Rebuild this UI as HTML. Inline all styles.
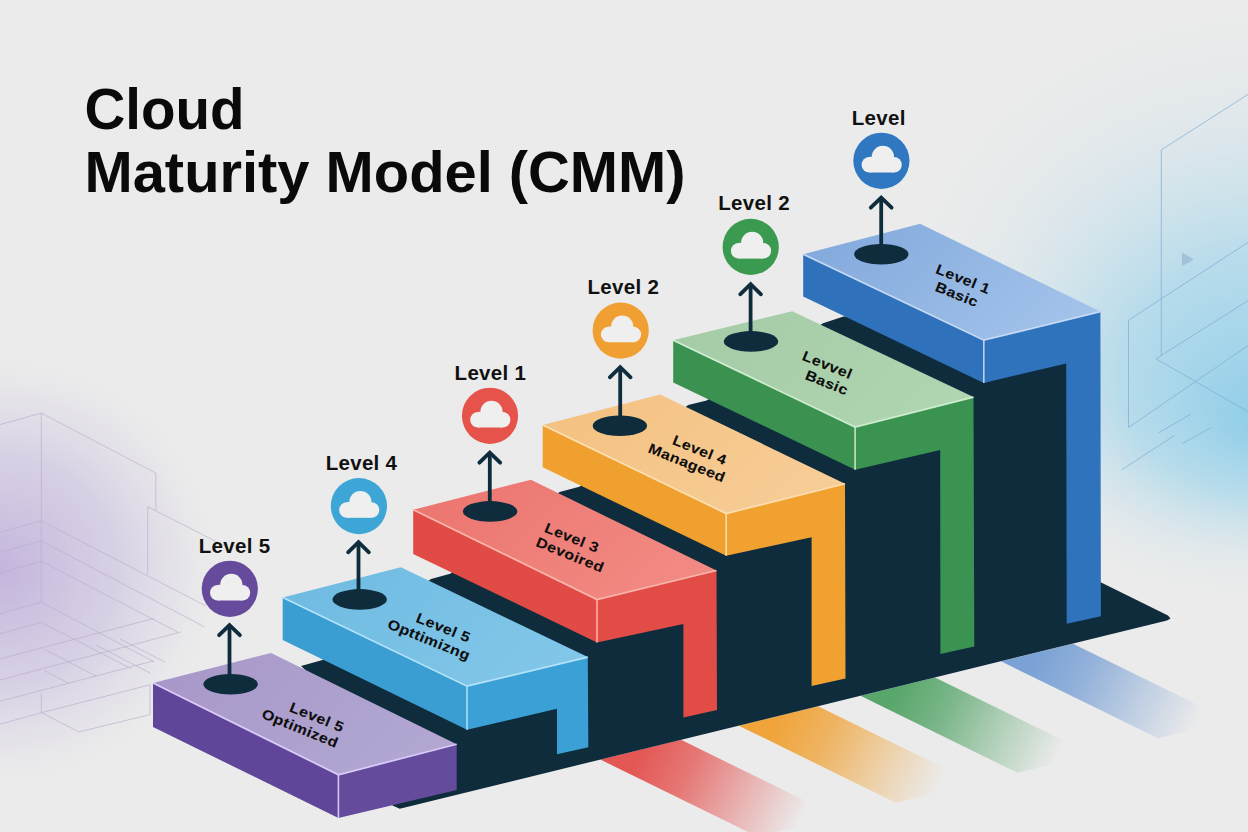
<!DOCTYPE html>
<html><head><meta charset="utf-8"><style>
html,body{margin:0;padding:0;width:1248px;height:832px;overflow:hidden;background:#ebebeb}
svg{display:block}
.title{font-family:"Liberation Sans",sans-serif;font-weight:bold;font-size:56.5px;fill:#0a0a0a}
.lbl{font-family:"Liberation Sans",sans-serif;font-weight:bold;font-size:20.5px;fill:#111;letter-spacing:0.3px}
.st{font-family:"Liberation Sans",sans-serif;font-weight:bold;font-size:14px;fill:#0d0d0d;letter-spacing:0.4px;stroke:#0d0d0d;stroke-width:0.1px}
</style></head><body>
<svg width="1248" height="832" viewBox="0 0 1248 832">
<defs>
<linearGradient id="g_purple" x1="0" y1="0.3" x2="1" y2="0.7"><stop offset="0" stop-color="#a898c9"/><stop offset="1" stop-color="#b2a8d2"/></linearGradient>
<linearGradient id="g_cyan" x1="0" y1="0.3" x2="1" y2="0.7"><stop offset="0" stop-color="#70bbe2"/><stop offset="1" stop-color="#82c7e9"/></linearGradient>
<linearGradient id="g_red" x1="0" y1="0.3" x2="1" y2="0.7"><stop offset="0" stop-color="#ec7670"/><stop offset="1" stop-color="#f28b84"/></linearGradient>
<linearGradient id="g_orange" x1="0" y1="0.3" x2="1" y2="0.7"><stop offset="0" stop-color="#f4c282"/><stop offset="1" stop-color="#f7cd97"/></linearGradient>
<linearGradient id="g_green" x1="0" y1="0.3" x2="1" y2="0.7"><stop offset="0" stop-color="#a4cca6"/><stop offset="1" stop-color="#b0d5b1"/></linearGradient>
<linearGradient id="g_blue" x1="0" y1="0.3" x2="1" y2="0.7"><stop offset="0" stop-color="#84aadd"/><stop offset="1" stop-color="#a3c3ea"/></linearGradient>
</defs>
<radialGradient id="bgp" cx="0" cy="0" r="1" gradientUnits="userSpaceOnUse" gradientTransform="translate(0,570) scale(215,210)"><stop offset="0" stop-color="#b9a7d9" stop-opacity="0.8"/><stop offset="0.55" stop-color="#c4b6de" stop-opacity="0.5"/><stop offset="1" stop-color="#d0c8e2" stop-opacity="0"/></radialGradient>
<radialGradient id="bgb" cx="0" cy="0" r="1" fx="0" fy="0.42" gradientUnits="userSpaceOnUse" gradientTransform="translate(1262,300) scale(360,300)"><stop offset="0" stop-color="#8ecde8" stop-opacity="1"/><stop offset="0.4" stop-color="#a2d5eb" stop-opacity="0.7"/><stop offset="0.75" stop-color="#c2e0ec" stop-opacity="0.22"/><stop offset="1" stop-color="#d5e6ec" stop-opacity="0"/></radialGradient>
<rect width="1248" height="832" fill="#ebebeb"/>
<rect width="1248" height="832" fill="url(#bgb)"/>
<rect width="1248" height="832" fill="url(#bgp)"/>
<g stroke="#7eabd6" stroke-width="1" fill="none" stroke-opacity="0.7"><line x1="1161.3" y1="149.9" x2="1161.3" y2="356.1"/><line x1="1161.3" y1="149.9" x2="1248" y2="94.4"/><line x1="1156" y1="358.8" x2="1248" y2="300.6"/><line x1="1128.5" y1="320.2" x2="1128.5" y2="427.5"/><line x1="1128.5" y1="320.2" x2="1248" y2="242.4"/><line x1="1128.5" y1="427.5" x2="1248" y2="345.6"/><line x1="1156" y1="358.8" x2="1248" y2="411.7"/><line x1="1158.6" y1="432.8" x2="1190.4" y2="414.3"/><line x1="1182.4" y1="443.4" x2="1211.5" y2="427.5"/><line x1="1121.6" y1="469.8" x2="1174.5" y2="435.5"/></g><polygon points="1182,252.5 1194,259.4 1182,266.3" fill="#9dbad6" fill-opacity="0.8"/>
<g stroke="#b8aecb" stroke-width="1" fill="none" stroke-opacity="0.65"><line x1="41.3" y1="413.1" x2="41.3" y2="602"/><line x1="41.3" y1="693.5" x2="41.3" y2="712.7"/><line x1="0" y1="424.6" x2="41.3" y2="413.1"/><line x1="41.3" y1="413.1" x2="155.8" y2="473.1"/><line x1="155.8" y1="473.1" x2="155.8" y2="510.6"/><line x1="147.7" y1="506.7" x2="147.7" y2="573.8"/><line x1="147.7" y1="506.7" x2="225" y2="546"/><line x1="0" y1="532.3" x2="41.3" y2="520.8"/><line x1="0" y1="552.4" x2="41.3" y2="540.9"/><line x1="0" y1="572.8" x2="41.3" y2="561.3"/><line x1="0" y1="613.7" x2="41.3" y2="602.1"/><line x1="0" y1="633.8" x2="41.3" y2="622.3"/><line x1="41.3" y1="520.8" x2="206" y2="606"/><line x1="41.3" y1="540.9" x2="204.5" y2="626.9"/><line x1="41.3" y1="561.3" x2="178" y2="632.2"/><line x1="41.3" y1="602.1" x2="153.8" y2="661.7"/><line x1="41.3" y1="622.3" x2="130.8" y2="668.5"/><line x1="44.2" y1="649.2" x2="96.2" y2="676.2"/><line x1="44.2" y1="670.4" x2="69.2" y2="683.8"/><line x1="41.3" y1="712.7" x2="78.8" y2="731.9"/><line x1="0" y1="658.8" x2="153.8" y2="618.5"/><line x1="0" y1="680" x2="180.8" y2="632"/><line x1="0" y1="701.2" x2="153.8" y2="660.8"/><line x1="0" y1="724.2" x2="41.3" y2="712.7"/><line x1="41.3" y1="712.7" x2="150" y2="684.8"/><line x1="78.8" y1="731.9" x2="150" y2="714.6"/><line x1="150" y1="684.8" x2="150" y2="714.6"/><line x1="96" y1="645" x2="150" y2="673"/><line x1="120" y1="639" x2="165" y2="662"/></g>
<linearGradient id="sh0" gradientUnits="userSpaceOnUse" x1="640.7" y1="749.7" x2="797.8" y2="826.7"><stop offset="0" stop-color="#e34f4c" stop-opacity="0.95"/><stop offset="0.3" stop-color="#e34f4c" stop-opacity="0.74"/><stop offset="0.65" stop-color="#e34f4c" stop-opacity="0.36"/><stop offset="1" stop-color="#e34f4c" stop-opacity="0"/></linearGradient>
<polygon points="600.4,759.6 681.0,739.8 838.1,816.8 757.5,836.6" fill="url(#sh0)"/>
<linearGradient id="sh1" gradientUnits="userSpaceOnUse" x1="778.4" y1="715.9" x2="935.5" y2="792.9"><stop offset="0" stop-color="#f0a030" stop-opacity="0.95"/><stop offset="0.3" stop-color="#f0a030" stop-opacity="0.74"/><stop offset="0.65" stop-color="#f0a030" stop-opacity="0.36"/><stop offset="1" stop-color="#f0a030" stop-opacity="0"/></linearGradient>
<polygon points="738.7,725.7 818.0,706.2 975.1,783.2 895.8,802.7" fill="url(#sh1)"/>
<linearGradient id="sh2" gradientUnits="userSpaceOnUse" x1="897.7" y1="686.7" x2="1054.8" y2="763.7"><stop offset="0" stop-color="#3f9a55" stop-opacity="0.85"/><stop offset="0.3" stop-color="#3f9a55" stop-opacity="0.66"/><stop offset="0.65" stop-color="#3f9a55" stop-opacity="0.32"/><stop offset="1" stop-color="#3f9a55" stop-opacity="0"/></linearGradient>
<polygon points="860.4,695.8 935.0,677.5 1092.1,754.5 1017.5,772.8" fill="url(#sh2)"/>
<linearGradient id="sh3" gradientUnits="userSpaceOnUse" x1="1037.0" y1="652.5" x2="1194.1" y2="729.5"><stop offset="0" stop-color="#4a82cc" stop-opacity="0.7"/><stop offset="0.3" stop-color="#4a82cc" stop-opacity="0.55"/><stop offset="0.65" stop-color="#4a82cc" stop-opacity="0.27"/><stop offset="1" stop-color="#4a82cc" stop-opacity="0"/></linearGradient>
<polygon points="1001.0,661.3 1073.0,643.7 1230.1,720.7 1158.1,738.3" fill="url(#sh3)"/>
<polygon points="392.5,805.6 380.0,740.0 301.0,666.0 322.5,660.0 431.0,579.0 450.2,573.7 559.5,492.0 579.4,486.8 688.2,405.0 706.7,400.5 823.0,323.2 843.5,316.6 1090.0,340.0 1090.0,577.1 1168.0,615.5 1170.5,618.5 1167.0,620.5 399.8,808.8" fill="#0f2c3d"/>
<polygon points="803.2,254.2 983.8,340.2 983.8,383.0 803.2,296.5" fill="#2f72bb"/>
<polygon points="983.8,340.2 1100.4,311.6 1100.9,616.3 1066.7,623.8 1066.2,363.4 983.8,383.0" fill="#2f73bd"/>
<polygon points="803.2,254.2 920.1,223.8 1100.4,311.6 983.8,340.2" fill="url(#g_blue)"/>
<polyline points="803.2,254.2 983.8,340.2 1100.4,311.6" fill="none" stroke="#c9dcf6" stroke-width="1.7" stroke-opacity="0.95"/>
<line x1="983.8" y1="340.2" x2="983.8" y2="383" stroke="#c9dcf6" stroke-width="1.6" stroke-opacity="0.9"/><polygon points="673.2,340.2 855.1,427.0 855.1,469.8 673.2,382.5" fill="#3a9150"/>
<polygon points="855.1,427.0 973.5,397.1 974.3,646.5 940.4,654.0 940.2,450.0 855.1,469.8" fill="#3a9351"/>
<polygon points="673.2,340.2 792.2,311.2 973.5,397.1 855.1,427.0" fill="url(#g_green)"/>
<polyline points="673.2,340.2 855.1,427.0 973.5,397.1" fill="none" stroke="#d3f0d3" stroke-width="1.7" stroke-opacity="0.95"/>
<line x1="855.1" y1="427" x2="855.1" y2="469.8" stroke="#d3f0d3" stroke-width="1.6" stroke-opacity="0.9"/><polygon points="542.7,425.0 726.2,513.5 726.2,555.8 542.7,467.3" fill="#f0a02f"/>
<polygon points="726.2,513.5 845.0,483.7 845.5,678.5 811.6,686.0 811.6,537.3 726.2,555.8" fill="#f1a12f"/>
<polygon points="542.7,425.0 660.1,394.5 845.0,483.7 726.2,513.5" fill="url(#g_orange)"/>
<polyline points="542.7,425.0 726.2,513.5 845.0,483.7" fill="none" stroke="#fde3b8" stroke-width="1.7" stroke-opacity="0.95"/>
<line x1="726.2" y1="513.5" x2="726.2" y2="555.8" stroke="#fde3b8" stroke-width="1.6" stroke-opacity="0.9"/><polygon points="413.2,509.7 597.0,599.6 597.0,642.5 413.2,553.9" fill="#e04b46"/>
<polygon points="597.0,599.6 716.5,570.5 717.0,710.0 683.4,717.6 683.4,624.0 597.0,642.5" fill="#e24c46"/>
<polygon points="413.2,509.7 530.9,479.8 716.5,570.5 597.0,599.6" fill="url(#g_red)"/>
<polyline points="413.2,509.7 597.0,599.6 716.5,570.5" fill="none" stroke="#fbb9b1" stroke-width="1.7" stroke-opacity="0.95"/>
<line x1="597" y1="599.6" x2="597" y2="642.5" stroke="#fbb9b1" stroke-width="1.6" stroke-opacity="0.9"/><polygon points="282.7,597.6 467.0,686.2 467.0,729.8 282.7,640.0" fill="#3a9ed3"/>
<polygon points="467.0,686.2 587.8,657.1 588.3,747.3 557.0,754.2 557.0,708.7 467.0,729.8" fill="#3aa0d5"/>
<polygon points="282.7,597.6 400.9,567.2 587.8,657.1 467.0,686.2" fill="url(#g_cyan)"/>
<polyline points="282.7,597.6 467.0,686.2 587.8,657.1" fill="none" stroke="#b8e6fb" stroke-width="1.7" stroke-opacity="0.95"/>
<line x1="467" y1="686.2" x2="467" y2="729.8" stroke="#b8e6fb" stroke-width="1.6" stroke-opacity="0.9"/><polygon points="153.0,683.0 338.4,774.8 338.4,818.0 153.0,727.0" fill="#5f4698"/>
<polygon points="338.4,774.8 456.7,744.2 456.7,790.0 338.4,818.0" fill="#644b9b"/>
<polygon points="153.0,683.0 271.0,653.0 456.7,744.2 338.4,774.8" fill="url(#g_purple)"/>
<polyline points="153.0,683.0 338.4,774.8 456.7,744.2" fill="none" stroke="#ddd0ff" stroke-width="1.7" stroke-opacity="0.95"/>
<line x1="338.4" y1="774.8" x2="338.4" y2="818" stroke="#ddd0ff" stroke-width="1.6" stroke-opacity="0.9"/>
<g transform="translate(308.6,722.6) rotate(22) scale(1.14,1)"><text x="5.00" y="-3.3" class="st" text-anchor="middle">Level 5</text><text x="-5.00" y="13.3" class="st" text-anchor="middle">Optimized</text></g><g transform="translate(436.3,633.5) rotate(22) scale(1.14,1)"><text x="3.90" y="-3.3" class="st" text-anchor="middle">Level 5</text><text x="-3.90" y="13.3" class="st" text-anchor="middle">Opttimizng</text></g><g transform="translate(571,546.1) rotate(22) scale(1.14,1)"><text x="-2.11" y="-3.3" class="st" text-anchor="middle">Level 3</text><text x="2.11" y="13.3" class="st" text-anchor="middle">Devoired</text></g><g transform="translate(693.4,456.3) rotate(22) scale(1.14,1)"><text x="3.11" y="-3.3" class="st" text-anchor="middle">Level 4</text><text x="-3.11" y="13.3" class="st" text-anchor="middle">Manageed</text></g><g transform="translate(827.2,373.6) rotate(22) scale(1.14,1)"><text x="-2.63" y="-3.3" class="st" text-anchor="middle">Levvel</text><text x="2.63" y="13.3" class="st" text-anchor="middle">Basic</text></g><g transform="translate(960.1,286.6) rotate(22) scale(1.14,1)"><text x="0.00" y="-3.3" class="st" text-anchor="middle">Level 1</text><text x="-0.00" y="13.3" class="st" text-anchor="middle">Basic</text></g>
<ellipse cx="230.6" cy="684.3" rx="27.2" ry="10.3" fill="#0f2c3d"/>
<line x1="229.5" y1="625.1" x2="229.5" y2="684.3" stroke="#0f2c3d" stroke-width="3.8"/>
<polyline points="219.1,635.2 229.5,625.1 239.9,635.2" fill="none" stroke="#0f2c3d" stroke-width="3.8" stroke-linecap="round" stroke-linejoin="miter"/>
<circle cx="229.8" cy="588.8" r="28.1" fill="#664a9c"/>
<g transform="translate(229.8,588.8)" fill="#efefef"><circle cx="1.5" cy="-4" r="11.1"/><circle cx="-12" cy="3.9" r="7.8"/><circle cx="12.6" cy="3.9" r="7.8"/><rect x="-12" y="-4" width="24.6" height="15.7"/></g>
<text x="234.6" y="552.6" class="lbl" text-anchor="middle">Level 5</text><ellipse cx="359.7" cy="599.4" rx="27.2" ry="10.3" fill="#0f2c3d"/>
<line x1="358.5" y1="542.2" x2="358.5" y2="599.4" stroke="#0f2c3d" stroke-width="3.8"/>
<polyline points="348.1,552.3 358.5,542.2 368.9,552.3" fill="none" stroke="#0f2c3d" stroke-width="3.8" stroke-linecap="round" stroke-linejoin="miter"/>
<circle cx="358.9" cy="506.1" r="28.1" fill="#3da6d7"/>
<g transform="translate(358.9,506.1)" fill="#efefef"><circle cx="1.5" cy="-4" r="11.1"/><circle cx="-12" cy="3.9" r="7.8"/><circle cx="12.6" cy="3.9" r="7.8"/><rect x="-12" y="-4" width="24.6" height="15.7"/></g>
<text x="361.5" y="470.4" class="lbl" text-anchor="middle">Level 4</text><ellipse cx="490.1" cy="511.4" rx="27.2" ry="10.3" fill="#0f2c3d"/>
<line x1="489.8" y1="452.6" x2="489.8" y2="511.4" stroke="#0f2c3d" stroke-width="3.8"/>
<polyline points="479.4,462.7 489.8,452.6 500.2,462.7" fill="none" stroke="#0f2c3d" stroke-width="3.8" stroke-linecap="round" stroke-linejoin="miter"/>
<circle cx="490" cy="415.8" r="28.1" fill="#e5534b"/>
<g transform="translate(490.0,415.8)" fill="#efefef"><circle cx="1.5" cy="-4" r="11.1"/><circle cx="-12" cy="3.9" r="7.8"/><circle cx="12.6" cy="3.9" r="7.8"/><rect x="-12" y="-4" width="24.6" height="15.7"/></g>
<text x="490.4" y="379.6" class="lbl" text-anchor="middle">Level 1</text><ellipse cx="619.9" cy="425.8" rx="27.2" ry="10.3" fill="#0f2c3d"/>
<line x1="620.2" y1="367.2" x2="620.2" y2="425.8" stroke="#0f2c3d" stroke-width="3.8"/>
<polyline points="609.8,377.3 620.2,367.2 630.6,377.3" fill="none" stroke="#0f2c3d" stroke-width="3.8" stroke-linecap="round" stroke-linejoin="miter"/>
<circle cx="620.7" cy="330.6" r="28.1" fill="#f0a032"/>
<g transform="translate(620.7,330.6)" fill="#efefef"><circle cx="1.5" cy="-4" r="11.1"/><circle cx="-12" cy="3.9" r="7.8"/><circle cx="12.6" cy="3.9" r="7.8"/><rect x="-12" y="-4" width="24.6" height="15.7"/></g>
<text x="623.3" y="294.0" class="lbl" text-anchor="middle">Level 2</text><ellipse cx="751" cy="341.4" rx="27.2" ry="10.3" fill="#0f2c3d"/>
<line x1="750.6" y1="284.2" x2="750.6" y2="341.4" stroke="#0f2c3d" stroke-width="3.8"/>
<polyline points="740.2,294.3 750.6,284.2 761.0,294.3" fill="none" stroke="#0f2c3d" stroke-width="3.8" stroke-linecap="round" stroke-linejoin="miter"/>
<circle cx="750.7" cy="246.9" r="28.1" fill="#3a9a50"/>
<g transform="translate(750.7,246.9)" fill="#efefef"><circle cx="1.5" cy="-4" r="11.1"/><circle cx="-12" cy="3.9" r="7.8"/><circle cx="12.6" cy="3.9" r="7.8"/><rect x="-12" y="-4" width="24.6" height="15.7"/></g>
<text x="754.1" y="210.4" class="lbl" text-anchor="middle">Level 2</text><ellipse cx="881.3" cy="254.3" rx="27.2" ry="10.3" fill="#0f2c3d"/>
<line x1="881.2" y1="197.6" x2="881.2" y2="254.3" stroke="#0f2c3d" stroke-width="3.8"/>
<polyline points="870.8,207.7 881.2,197.6 891.6,207.7" fill="none" stroke="#0f2c3d" stroke-width="3.8" stroke-linecap="round" stroke-linejoin="miter"/>
<circle cx="881.4" cy="160.8" r="28.1" fill="#2f78c1"/>
<g transform="translate(881.4,160.8)" fill="#efefef"><circle cx="1.5" cy="-4" r="11.1"/><circle cx="-12" cy="3.9" r="7.8"/><circle cx="12.6" cy="3.9" r="7.8"/><rect x="-12" y="-4" width="24.6" height="15.7"/></g>
<text x="878.7" y="125.0" class="lbl" text-anchor="middle">Level</text>
<text x="84.5" y="128.7" class="title">Cloud</text>
<text x="84.5" y="192.2" class="title" textLength="601" lengthAdjust="spacingAndGlyphs">Maturity Model (CMM)</text>
</svg>
</body></html>
